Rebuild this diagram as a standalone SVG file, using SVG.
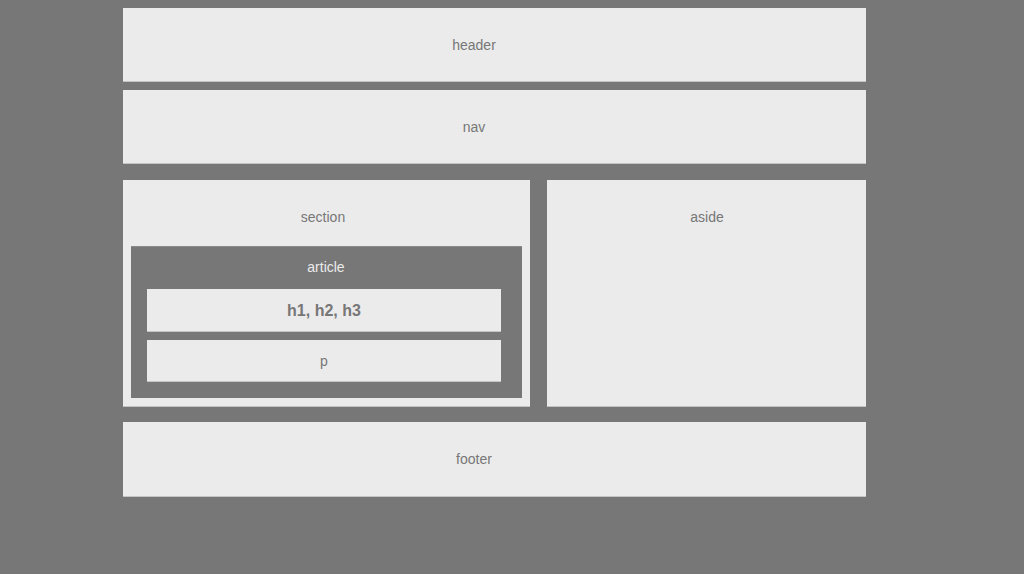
<svg xmlns="http://www.w3.org/2000/svg" width="1024" height="574" viewBox="0 0 1024 574">
<style>
.box{fill:#ebebeb}
.edge{fill:#c4c4c4}
.dark{fill:#777777}
text{font-family:"Liberation Sans",Arial,sans-serif;font-size:14px;fill:#777777;text-anchor:middle}
.light{fill:#ebebeb}
.bold{font-weight:bold;font-size:16px}
</style>
<rect width="1024" height="574" fill="#777777"/>
<g id="header"><rect class="box" x="123" y="8" width="743" height="74"/><rect class="edge" x="123" y="81" width="743" height="1"/><text x="474" y="50">header</text></g>
<g id="nav"><rect class="box" x="123" y="90" width="743" height="74"/><rect class="edge" x="123" y="163" width="743" height="1"/><text x="474" y="132">nav</text></g>
<g id="section"><rect class="box" x="123" y="180" width="407" height="227"/><rect class="edge" x="123" y="406" width="407" height="1"/><text x="323" y="222">section</text></g>
<g id="article"><rect class="dark" x="131" y="246" width="391" height="152"/><rect fill="#8a8a8a" x="131" y="246" width="391" height="1"/><text class="light" x="326" y="272">article</text></g>
<g id="headings"><rect class="box" x="147" y="289" width="354" height="43"/><rect class="edge" x="147" y="331" width="354" height="1"/><text class="bold" x="324" y="316">h1, h2, h3</text></g>
<g id="p"><rect class="box" x="147" y="340" width="354" height="42"/><rect class="edge" x="147" y="381" width="354" height="1"/><text x="324" y="366">p</text></g>
<g id="aside"><rect class="box" x="547" y="180" width="319" height="227"/><rect class="edge" x="547" y="406" width="319" height="1"/><text x="707" y="222">aside</text></g>
<g id="footer"><rect class="box" x="123" y="422" width="743" height="75"/><rect class="edge" x="123" y="496" width="743" height="1"/><text x="474" y="464">footer</text></g>
<g id="connectors"/>
</svg>
